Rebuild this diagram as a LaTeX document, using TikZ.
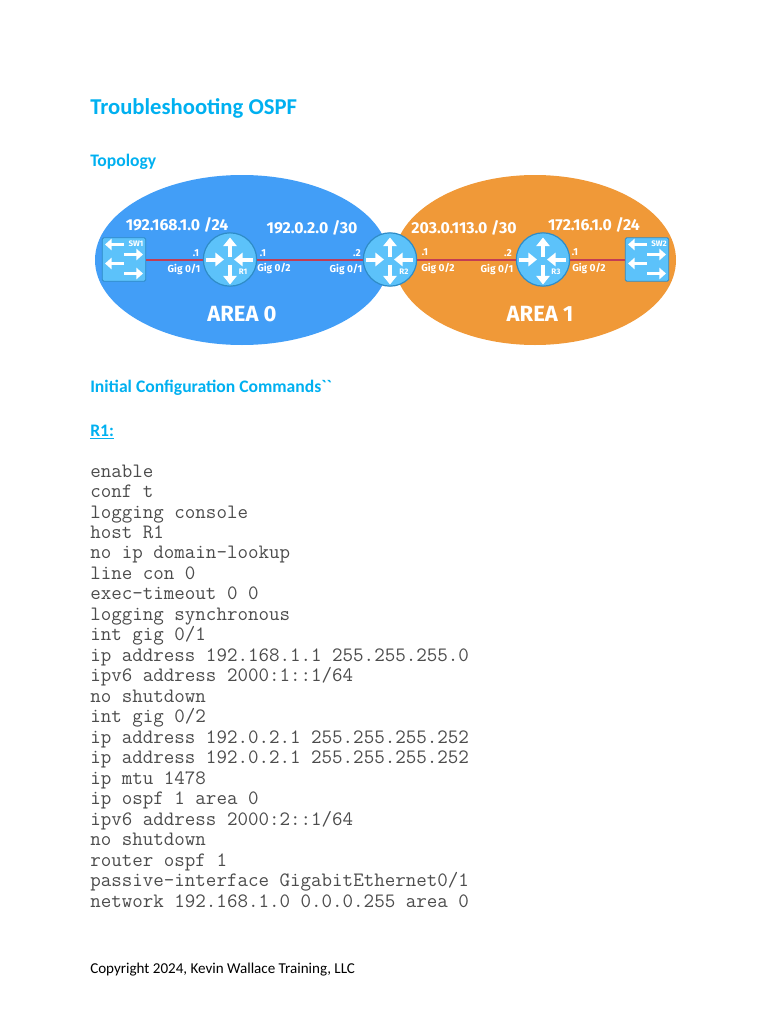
\documentclass[tikz,border=0pt]{standalone}
\usepackage{fontspec}
\setmainfont{Carlito}
\newfontfamily\gravefont{Carlito}[Ligatures=TeXOff]
\newfontfamily\topofont{Fira Sans}
\usetikzlibrary{arrows.meta}

\definecolor{headblue}{rgb}{0.0,0.69,0.94}
\definecolor{area0}{rgb}{0.26,0.62,0.97}
\definecolor{area1}{rgb}{0.94,0.60,0.22}
\definecolor{devfill}{rgb}{0.36,0.76,0.98}
\definecolor{devedge}{rgb}{0.18,0.55,0.78}
\definecolor{linkred}{rgb}{0.76,0.24,0.33}

\tikzset{
	heading/.style={anchor=base west,inner sep=0pt,text=headblue,font=\fontsize{13.2}{15}\selectfont\bfseries},
	cmd/.style={anchor=base west,inner sep=0pt,font=\fontsize{15.32}{17}\selectfont\ttfamily,text=black!70},
	subnet/.style={inner sep=0pt,text=white,font=\fontsize{11.9}{14}\selectfont\topofont\bfseries},
	port/.style={inner sep=0pt,text=white,font=\fontsize{7.6}{9}\selectfont\topofont\bfseries},
	devname/.style={inner sep=0pt,text=white,font=\fontsize{6}{7}\selectfont\topofont\bfseries},
	arealabel/.style={inner sep=0pt,text=white,font=\fontsize{16.5}{18}\selectfont\topofont\bfseries},
	router/.style={circle,draw=devedge,fill=devfill,line width=0.9pt,minimum size=40pt,inner sep=0pt},
	switchbox/.style={rectangle,draw=devedge,fill=devfill,line width=0.6pt,rounded corners=1pt,minimum size=32.5pt,inner sep=0pt},
	wire/.style={draw=linkred,line width=1.5pt},
	iconarrow/.style={white,line width=3pt,-{Triangle[length=6.5pt,width=10pt]}},
	swarrow/.style={white,line width=2.6pt,-{Triangle[length=5pt,width=8.5pt]}},
	routerarrows/.pic={
		\draw[iconarrow] (0,-3) -- (0,-22);
		\draw[iconarrow] (0,5) -- (0,25);
		\draw[iconarrow] (-24,0) -- (-6,0);
		\draw[iconarrow] (23,0) -- (4,0);
	},
	switcharrows/.pic={
		\draw[swarrow] (0,-15) -- (-19,-15);
		\draw[swarrow] (0,-5) -- (19,-5);
		\draw[swarrow] (0,4) -- (-19,4);
		\draw[swarrow] (0,14) -- (19,14);
	}
}

\begin{document}
\begin{tikzpicture}[x=0.75pt,y=-0.75pt]
	\useasboundingbox (0,0) rectangle (768,1024);

	\node[heading,font=\fontsize{17}{19}\selectfont\bfseries] at (90,114) (title) {Troubleshooting OSPF};
	\node[heading] at (90,166) (topology) {Topology};

	% Areas
	\fill[area0] (242,260) ellipse [x radius=147,y radius=85];
	\fill[area1] (535,260) ellipse [x radius=141,y radius=85];

	% Devices
	\node[switchbox] at (124,259.5) (sw1) {};
	\node[router] at (230,259.5) (r1) {};
	\node[router] at (390,259.5) (r2) {};
	\node[router] at (543,259.5) (r3) {};
	\node[switchbox] at (647,259.5) (sw2) {};

	\draw[wire] (sw1) -- (r1);
	\draw[wire] (r1) -- (r2);
	\draw[wire] (r2) -- (r3);
	\draw[wire] (r3) -- (sw2);

	\pic at (sw1) {switcharrows};
	\pic at (r1) {routerarrows};
	\pic at (r2) {routerarrows};
	\pic at (r3) {routerarrows};
	\pic at (sw2) {switcharrows};

	\node[devname] at (136,244) (sw1name) {SW1};
	\node[devname] at (243,272) (r1name) {R1};
	\node[devname] at (404,272) (r2name) {R2};
	\node[devname] at (556,272) (r3name) {R3};
	\node[devname] at (659,244) (sw2name) {SW2};

	% Labels
	\node[subnet] at (177,225) (net1) {192.168.1.0 /24};
	\node[subnet] at (312,228) (net2) {192.0.2.0 /30};
	\node[subnet] at (464,228) (net3) {203.0.113.0 /30};
	\node[subnet] at (594,225) (net4) {172.16.1.0 /24};

	\node[port] at (196,253) (ip1) {.1};
	\node[port] at (263,253) (ip2) {.1};
	\node[port] at (357,253) (ip3) {.2};
	\node[port] at (425,252) (ip4) {.1};
	\node[port] at (508,253) (ip5) {.2};
	\node[port] at (575,252) (ip6) {.1};

	\node[port] at (184,269) (gig1) {Gig 0/1};
	\node[port] at (274,268) (gig2) {Gig 0/2};
	\node[port] at (346,269) (gig3) {Gig 0/1};
	\node[port] at (438,268) (gig4) {Gig 0/2};
	\node[port] at (497,269) (gig5) {Gig 0/1};
	\node[port] at (589,268) (gig6) {Gig 0/2};

	\node[arealabel] at (242,314) (area0name) {AREA 0};
	\node[arealabel] at (540,314) (area1name) {AREA 1};

	% Commands
	\node[heading] at (90,392) (initial) {Initial Configuration Commands{\gravefont ``}};
	\node[heading] at (90,436) (r1head) {\underline{R1:}};

	\node[cmd] at (90,477) (c1) {enable};
	\node[cmd] at (90,497.5) (c2) {conf t};
	\node[cmd] at (90,518) (c3) {logging console};
	\node[cmd] at (90,538.4) (c4) {host R1};
	\node[cmd] at (90,558.9) (c5) {no ip domain-lookup};
	\node[cmd] at (90,579.4) (c6) {line con 0};
	\node[cmd] at (90,599.9) (c7) {exec-timeout 0 0};
	\node[cmd] at (90,620.4) (c8) {logging synchronous};
	\node[cmd] at (90,640.8) (c9) {int gig 0/1};
	\node[cmd] at (90,661.3) (c10) {ip address 192.168.1.1 255.255.255.0};
	\node[cmd] at (90,681.8) (c11) {ipv6 address 2000:1::1/64};
	\node[cmd] at (90,702.3) (c12) {no shutdown};
	\node[cmd] at (90,722.8) (c13) {int gig 0/2};
	\node[cmd] at (90,743.2) (c14) {ip address 192.0.2.1 255.255.255.252};
	\node[cmd] at (90,763.7) (c15) {ip address 192.0.2.1 255.255.255.252};
	\node[cmd] at (90,784.2) (c16) {ip mtu 1478};
	\node[cmd] at (90,804.7) (c17) {ip ospf 1 area 0};
	\node[cmd] at (90,825.2) (c18) {ipv6 address 2000:2::1/64};
	\node[cmd] at (90,845.6) (c19) {no shutdown};
	\node[cmd] at (90,866.1) (c20) {router ospf 1};
	\node[cmd] at (90,886.6) (c21) {passive-interface GigabitEthernet0/1};
	\node[cmd] at (90,907) (c22) {network 192.168.1.0 0.0.0.255 area 0};

	\node[heading,text=black,font=\fontsize{11.3}{13}\selectfont] at (90,973) (footer) {Copyright 2024, Kevin Wallace Training, LLC};
\end{tikzpicture}
\end{document}
